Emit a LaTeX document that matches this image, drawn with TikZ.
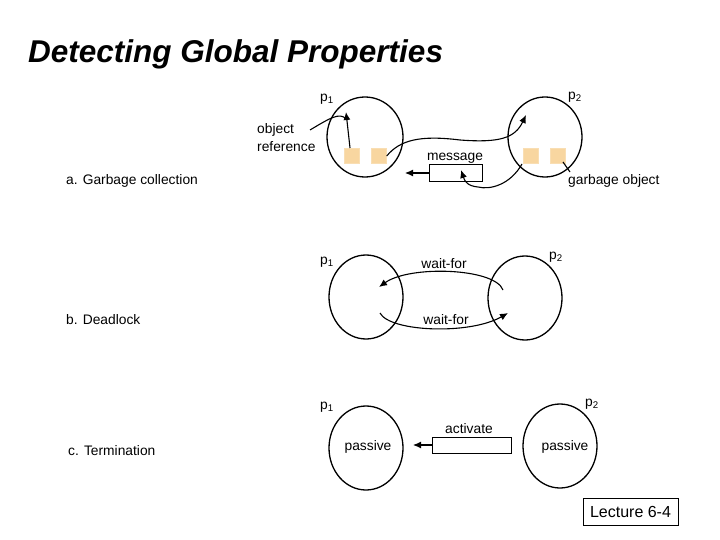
\documentclass[tikz,border=0pt]{standalone}
\usepackage{fontspec}
\setmainfont{Liberation Sans}
\usetikzlibrary{arrows.meta}
\definecolor{peach}{RGB}{248,214,160}
\begin{document}
\begin{tikzpicture}[x=1pt,y=-1pt,
  lbl/.style={font=\fontsize{13.8}{15}\selectfont,inner sep=0pt},
  sq/.style={fill=peach,draw=peach!80!white,minimum size=15pt,inner sep=0pt},
  bx/.style={draw,line width=1pt,inner sep=0pt},
  ln/.style={line width=1.1pt},
  arr/.style={ln,-{Latex[length=8pt,width=7pt]}}]
\useasboundingbox (0,0) rectangle (720,540);
\node[font=\bfseries\itshape\fontsize{31.5}{34}\selectfont,anchor=west,inner sep=0pt] (title) at (28,54) {Detecting Global Properties};
% a
\draw[line width=1.3pt] (365,137) ellipse (38 and 40);
\draw[line width=1.3pt] (545,137) ellipse (37 and 40);
\node[lbl] (ap1) at (327,99) {p\textsubscript{1}};
\node[lbl] (ap2) at (575,97) {p\textsubscript{2}};
\node[sq] (s1) at (352,156) {};
\node[sq] (s2) at (379,156) {};
\node[sq] (s3) at (531,156) {};
\node[sq] (s4) at (558,156) {};
\node[lbl,anchor=west,align=left] (objref) at (257,138) {object\\[3pt]reference};
\node[lbl,anchor=west] (ga) at (66,181) {a. Garbage collection};
\node[lbl,anchor=west] (gobj) at (568,181) {garbage object};
\node[bx,minimum width=53pt,minimum height=17pt] (msg) at (456,173) {};
\node[lbl] (msgt) at (455,158) {message};
\coordinate (msgend) at (405,173);
\draw[arr] (msg.west) -- (msgend);
\draw[ln] (310,130) .. controls (330,118) and (340,112) .. (346,119);
\draw[arr] (350,148) -- (346,112);
\draw[arr] (s2.east) .. controls (400,140) and (420,135) .. (460,140) .. controls (500,143) and (515,138) .. (526,115);
\draw[arr] (522,164) .. controls (510,185) and (490,190) .. (478,187) .. controls (468,186) and (465,182) .. (461,170);
\draw[ln] (563,162) -- (570,172);
% b
\draw[line width=1.3pt] (366,297) ellipse (37 and 42);
\draw[line width=1.3pt] (525,298) ellipse (37 and 42);
\node[lbl] (bp1) at (327,262) {p\textsubscript{1}};
\node[lbl] (bp2) at (556,257) {p\textsubscript{2}};
\node[lbl,anchor=west] (bl) at (66,320) {b. Deadlock};
\node[lbl] (w1) at (444,264) {wait-for};
\node[lbl] (w2) at (446,320) {wait-for};
\draw[arr] (503,290) .. controls (495,268) and (410,265) .. (379,287);
\draw[arr] (380,313) .. controls (390,332) and (470,335) .. (508,313);
% c
\draw[line width=1.3pt] (366,448) ellipse (37 and 42);
\draw[line width=1.3pt] (560,446) ellipse (37 and 42);
\node[lbl] (cp1) at (327,407) {p\textsubscript{1}};
\node[lbl] (cp2) at (592,404) {p\textsubscript{2}};
\node[lbl] (pa1) at (368,447) {passive};
\node[lbl] (pa2) at (565,447) {passive};
\node[lbl,anchor=west] (cl) at (68,451) {c. Termination};
\node[bx,minimum width=79pt,minimum height=16pt] (act) at (472,445) {};
\node[lbl] (actt) at (469,429) {activate};
\coordinate (actend) at (413,445);
\draw[arr] (act.west) -- (actend);
% footer
\node[draw,line width=1pt,minimum width=95pt,minimum height=27pt,font=\fontsize{16}{18}\selectfont] (lec) at (630.5,511.5) {Lecture 6-4};
\end{tikzpicture}
\end{document}
